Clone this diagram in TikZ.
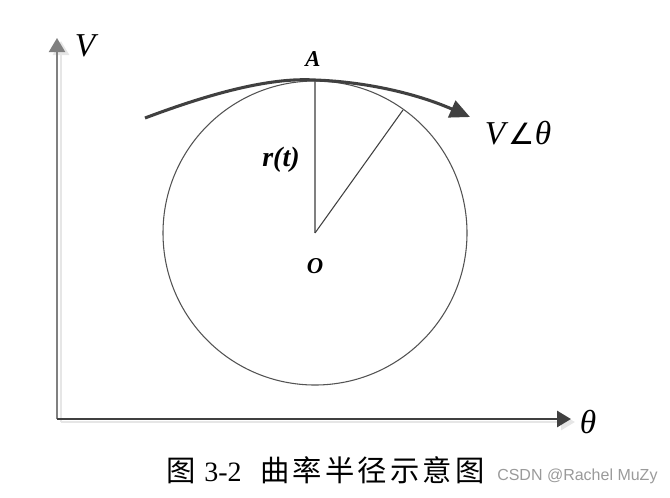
\documentclass[tikz,border=0pt]{standalone}
\usepackage{fontspec}
\setmainfont{Liberation Serif}
\newfontfamily\cjk{Noto Sans CJK SC}
\newfontfamily\symfont{DejaVu Sans}
\newfontfamily\wmfont{Liberation Sans}
\usetikzlibrary{arrows.meta,calc}
\definecolor{axdark}{HTML}{404040}
\definecolor{axgray}{HTML}{808080}
\definecolor{shadow}{HTML}{E6E6E6}
\definecolor{wm}{HTML}{9A9A9A}
\tikzset{
  shadowline/.style={draw=shadow,line width=2.2pt},
  lbl/.style={inner sep=0pt,font=\bfseries\itshape\fontsize{17}{20}\selectfont},
  axlbl/.style={inner sep=0pt,font=\itshape\fontsize{25}{30}\selectfont},
  thin/.style={draw=axgray,line width=0.8pt},
}
\newcommand{\cs}{\hspace{2.4pt}}
\begin{document}
\begin{tikzpicture}[x=0.75pt,y=-0.75pt]
\useasboundingbox (0,0) rectangle (670,497);
% coordinates
\coordinate (org) at (57,419);
\coordinate (ytip) at (57,38);
\coordinate (xtip) at (571,419);
\coordinate (O) at (315,233);
\coordinate (A) at (315,81);
\coordinate (P) at (403,110);
\coordinate (s) at (145,118);
\coordinate (e) at (470,117);
% shadows of axes
\draw[shadowline,-{Triangle[width=12pt,length=10.5pt]}] ($(org)+(4,3)$) -- ($(ytip)+(4,3)$);
\draw[shadowline,-{Triangle[width=12pt,length=10.5pt]}] ($(org)+(4,3)$) -- ($(xtip)+(4,3)$);
% axes
\draw[draw=axgray,fill=axgray,line width=1.6pt,-{Triangle[width=12pt,length=10.5pt]}] (org) -- (ytip);
\draw[draw=axdark,line width=2.2pt,-{Triangle[width=12pt,length=10.5pt]}] (org) -- (xtip);
% circle
\draw[draw=axdark!90,line width=0.8pt] (O) circle[radius=152];
% radius lines
\draw[thin] (O) -- (A);
\draw[draw=axdark,line width=0.8pt] (O) -- (P);
% velocity curve
\draw[draw=axdark,line width=2.3pt,-{Triangle[width=13.5pt,length=15pt]}] (s) .. controls (230,86) and (280,78) .. (315,80) .. controls (370,82) and (420,95) .. (e);
% labels
\node[lbl] (lA) at (313,59) {A};
\node[lbl,font=\bfseries\itshape\fontsize{21}{24}\selectfont] (lr) at (281,160) {r(t)};
\node[lbl] (lO) at (315,266) {O};
\node[axlbl] (lV) at (85,46) {V};
\node[axlbl] (lth) at (588,422) {θ};
\node[inner sep=0pt,font=\fontsize{25}{30}\selectfont] (lvt) at (518,133) {\textit{V}{\symfont\fontsize{22}{26}\selectfont ∠}\textit{θ}};
% caption
\node[inner sep=0pt,anchor=west,font=\fontsize{22}{26}\selectfont] (cap) at (166,470) {{\cjk 图}\hspace{6.5pt}{\fontsize{21}{24}\selectfont 3-2}\hspace{14pt}{\cjk 曲\cs 率\cs 半\cs 径\cs 示\cs 意\cs 图}};
\node[inner sep=0pt,anchor=west,text=wm,font=\wmfont\fontsize{12}{14}\selectfont] (wmk) at (497,476) {CSDN @Rachel MuZy};
\end{tikzpicture}
\end{document}
